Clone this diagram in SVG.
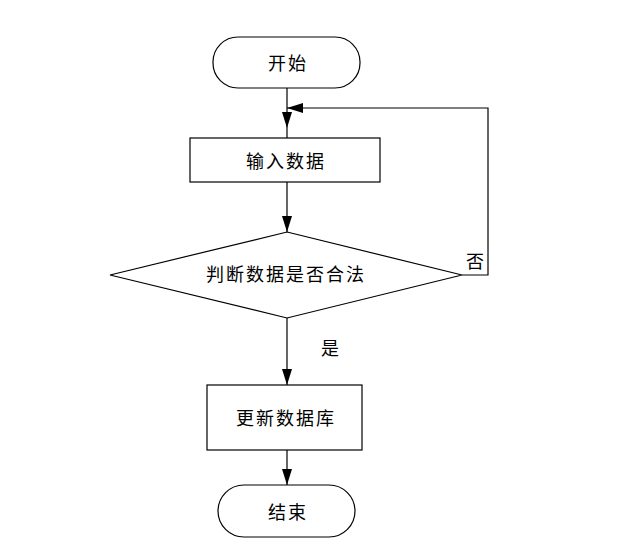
<svg xmlns="http://www.w3.org/2000/svg" width="633" height="549" viewBox="0 0 633 549">
<style>
.s{fill:#fff;stroke:#000;stroke-width:1.2}
.l{fill:none;stroke:#000;stroke-width:1.2}
text{font-family:"Noto Sans CJK SC",sans-serif;font-size:18px;letter-spacing:2px;text-anchor:middle;dominant-baseline:central}
</style>
<defs><marker id="a" markerWidth="16" markerHeight="10" refX="16" refY="5" orient="auto" markerUnits="userSpaceOnUse"><path d="M0,0L16,5L0,10z"/></marker></defs>
<rect width="633" height="549" fill="#fff"/>
<g id="connectors">
<path class="l" d="M287,88V128" marker-end="url(#a)"/>
<path class="l" d="M287,128V138"/>
<path class="l" d="M287,182V232" marker-end="url(#a)"/>
<path class="l" d="M462,275H488V108H287" marker-end="url(#a)"/>
<path class="l" d="M287,318V385" marker-end="url(#a)"/>
<path class="l" d="M287,450V485" marker-end="url(#a)"/>
<text x="476" y="260">否</text>
<text x="331" y="347">是</text>
</g>
<g id="start"><rect class="s" x="213" y="37" width="147" height="51" rx="25"/><text x="288" y="62">开始</text></g>
<g id="input"><rect class="s" x="190" y="138" width="190" height="44"/><text x="286" y="160">输入数据</text></g>
<g id="check"><path class="s" d="M287,232L462,275L287,318L110,275Z"/><text x="286" y="273">判断数据是否合法</text></g>
<g id="update"><rect class="s" x="207" y="385" width="155" height="65"/><text x="286" y="417">更新数据库</text></g>
<g id="end"><rect class="s" x="218" y="485" width="137" height="52" rx="26"/><text x="288" y="511">结束</text></g>
</svg>
